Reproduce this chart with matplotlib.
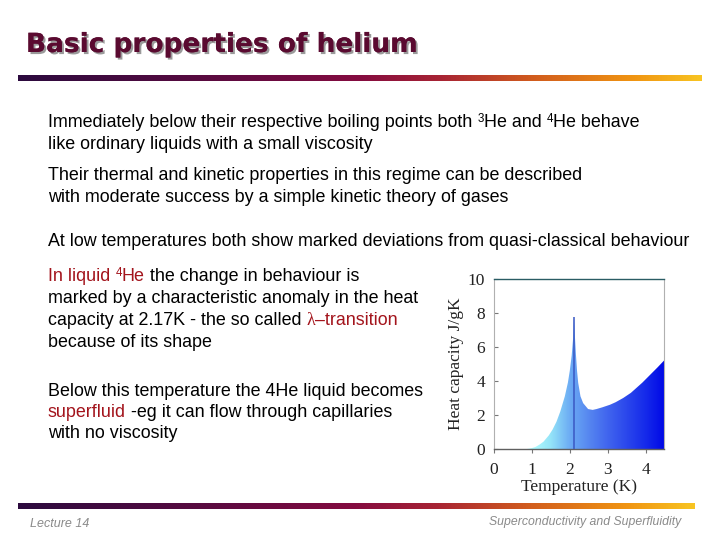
import numpy as np
import matplotlib
matplotlib.use("Agg")
import matplotlib.pyplot as plt
from matplotlib.colors import LinearSegmentedColormap
from matplotlib import patheffects as pe

# ---- data ----
temperature = [0.87, 1.0, 1.1, 1.2, 1.31, 1.45, 1.55, 1.65, 1.75, 1.87, 1.95, 2.0,
               2.05, 2.09, 2.11, 2.13, 2.16, 2.19, 2.22, 2.28, 2.35, 2.48, 2.6, 2.7,
               2.85, 3.05, 3.2, 3.4, 3.6, 3.75, 3.9, 4.1, 4.3, 4.47]
heat_capacity = [0.0, 0.05, 0.12, 0.25, 0.43, 0.8, 1.15, 1.6, 2.2, 3.1, 3.9, 4.6,
                 5.5, 6.6, 7.75, 6.8, 5.6, 4.6, 3.9, 3.1, 2.7, 2.35, 2.3, 2.35,
                 2.45, 2.6, 2.75, 3.0, 3.3, 3.6, 3.9, 4.35, 4.8, 5.2]
lambda_T = 2.11
lambda_peak = 7.75
x_ticks = [0, 1, 2, 3, 4]
y_ticks = [0, 2, 4, 6, 8, 10]

title = "Basic properties of helium"
footer_left = "Lecture 14"
footer_right = "Superconductivity and Superfluidity"

RED = "#a3141c"
BLK = "#000000"
SANS = ["Liberation Sans", "DejaVu Sans"]
SERIF = ["Liberation Serif", "DejaVu Serif"]

# each line: (baseline_y, [(text, color, kind)]) kind: n=normal, s=superscript, l=lambda serif
body_lines = [
    (127, [("Immediately below their respective boiling points both ", BLK, "n"), ("3", BLK, "s"),
           ("He and ", BLK, "n"), ("4", BLK, "s"), ("He behave", BLK, "n")]),
    (149, [("like ordinary liquids with a small viscosity", BLK, "n")]),
    (180, [("Their thermal and kinetic properties in this regime can be described", BLK, "n")]),
    (202, [("with moderate success by a simple kinetic theory of gases", BLK, "n")]),
    (246, [("At low temperatures both show marked deviations from quasi-classical behaviour", BLK, "n")]),
    (281, [("In liquid ", RED, "n"), ("4", RED, "s"), ("He", RED, "n"),
           (" the change in behaviour is", BLK, "n")]),
    (303, [("marked by a characteristic anomaly in the heat", BLK, "n")]),
    (325, [("capacity at 2.17K - the so called ", BLK, "n"), ("\u03bb", RED, "l"),
           ("\u2013transition", RED, "n")]),
    (347, [("because of its shape", BLK, "n")]),
    (396, [("Below this temperature the 4He liquid becomes", BLK, "n")]),
    (417, [("superfluid", RED, "n"), (" -eg it can flow through capillaries", BLK, "n")]),
    (438, [("with no viscosity", BLK, "n")]),
]

W, H = 720, 540
fig = plt.figure(figsize=(7.2, 5.4), dpi=100)
fig.patch.set_facecolor("white")
bg = fig.add_axes([0, 0, 1, 1])
bg.set_xlim(0, W)
bg.set_ylim(H, 0)
bg.axis("off")

# gradient rules
bar_cmap = LinearSegmentedColormap.from_list(
    "bar", [(0.0, "#2c0a3e"), (0.3, "#5e0a40"), (0.5, "#850c40"), (0.62, "#a82434"),
            (0.75, "#d05a1e"), (0.9, "#f09412"), (1.0, "#f8c422")])
grad = np.linspace(0, 1, 512).reshape(1, -1)
bg.imshow(grad, cmap=bar_cmap, extent=[18, 702, 81.5, 75.5], aspect="auto", zorder=1)
bg.imshow(grad, cmap=bar_cmap, extent=[18, 695, 509.5, 504], aspect="auto", zorder=1)
bg.set_xlim(0, W)
bg.set_ylim(H, 0)

fig.canvas.draw()
renderer = fig.canvas.get_renderer()


def text_width(s, **kw):
    if not s:
        return 0.0
    t1 = bg.text(0, 0, s + "|", **kw)
    t2 = bg.text(0, 0, "|", **kw)
    w = t1.get_window_extent(renderer=renderer).width - t2.get_window_extent(renderer=renderer).width
    t1.remove()
    t2.remove()
    return w


# title
shadow = [pe.withSimplePatchShadow(offset=(1.5, -1.5), shadow_rgbFace="#9a9a9a", alpha=1.0),
          pe.Normal()]
bg.text(26, 52, title, fontsize=19, fontweight="bold", color="#5a0a30",
        family=["DejaVu Sans"], va="baseline", ha="left", path_effects=shadow)

# body text, one text per coloured segment
for y, segs in body_lines:
    x = 48
    for s, col, kind in segs:
        if kind == "s":
            kw = dict(fontsize=8.4, family=SANS, color=col)
            dy = -5
        elif kind == "l":
            kw = dict(fontsize=13, family=SERIF, color=col)
            dy = 0
        else:
            kw = dict(fontsize=12.9, family=SANS, color=col)
            dy = 0
        bg.text(x, y + dy, s, va="baseline", ha="left", **kw)
        x += text_width(s, **kw)

# footers
NARROW = ["Liberation Sans Narrow", "Liberation Sans", "DejaVu Sans"]
bg.text(30, 527, footer_left, fontsize=9, style="italic", color="#8a8a8a", family=NARROW,
        va="baseline", ha="left")
bg.text(681, 525, footer_right, fontsize=8.8, style="italic", color="#8a8a8a", family=NARROW,
        va="baseline", ha="right")

# ---- chart ----
left, right, top, bottom = 493.5, 664, 279, 449
ax = fig.add_axes([left / W, 1 - bottom / H, (right - left) / W, (bottom - top) / H])
ax.set_xlim(0, 4.47)
ax.set_ylim(0, 10)
ax.set_facecolor("white")

fill_cmap = LinearSegmentedColormap.from_list(
    "fill", [(0.0, "#b8ffff"), (0.036, "#b0fcff"), (0.17, "#94e4f8"), (0.31, "#6cacf4"),
             (0.45, "#5686f0"), (0.59, "#4064ee"), (0.87, "#1428ea"), (1.0, "#0008e6")])
tt = np.linspace(0, 1, 400).reshape(1, -1)
img = ax.imshow(tt, cmap=fill_cmap, extent=[0.87, 4.47, 0, 10], aspect="auto",
                origin="lower", zorder=1)
poly = ax.fill_between(temperature, 0, heat_capacity, facecolor="none", edgecolor="none")
clip = poly.get_paths()[0]
img.set_clip_path(clip, transform=ax.transData)
ax.vlines(lambda_T, 0, lambda_peak, color="#3a58c4", lw=1.1, zorder=3)
ax.set_xlim(0, 4.47)
ax.set_ylim(0, 10)

for side in ["left", "right"]:
    ax.spines[side].set_color("#b0b0b0")
    ax.spines[side].set_linewidth(0.8)
ax.spines["top"].set_color("#2a5c64")
ax.spines["top"].set_linewidth(1.0)
ax.spines["bottom"].set_color("#606060")
ax.spines["bottom"].set_linewidth(1.0)

ax.set_xticks(x_ticks)
ax.set_yticks(y_ticks)
ax.tick_params(axis="y", direction="in", length=3, color="#777777", pad=6, labelsize=12.5,
               labelcolor="#222222")
ax.tick_params(axis="x", direction="out", length=3, color="#777777", pad=6, labelsize=12.5,
               labelcolor="#222222")
for lab in ax.get_xticklabels() + ax.get_yticklabels():
    lab.set_family(SERIF)
ax.set_xlabel("Temperature (K)", family=SERIF, fontsize=12.5, color="#222222", labelpad=1)
ax.set_ylabel("Heat capacity J/gK", family=SERIF, fontsize=12.5, color="#222222", labelpad=3)

fig.savefig("out.png", dpi=100, facecolor="white")
